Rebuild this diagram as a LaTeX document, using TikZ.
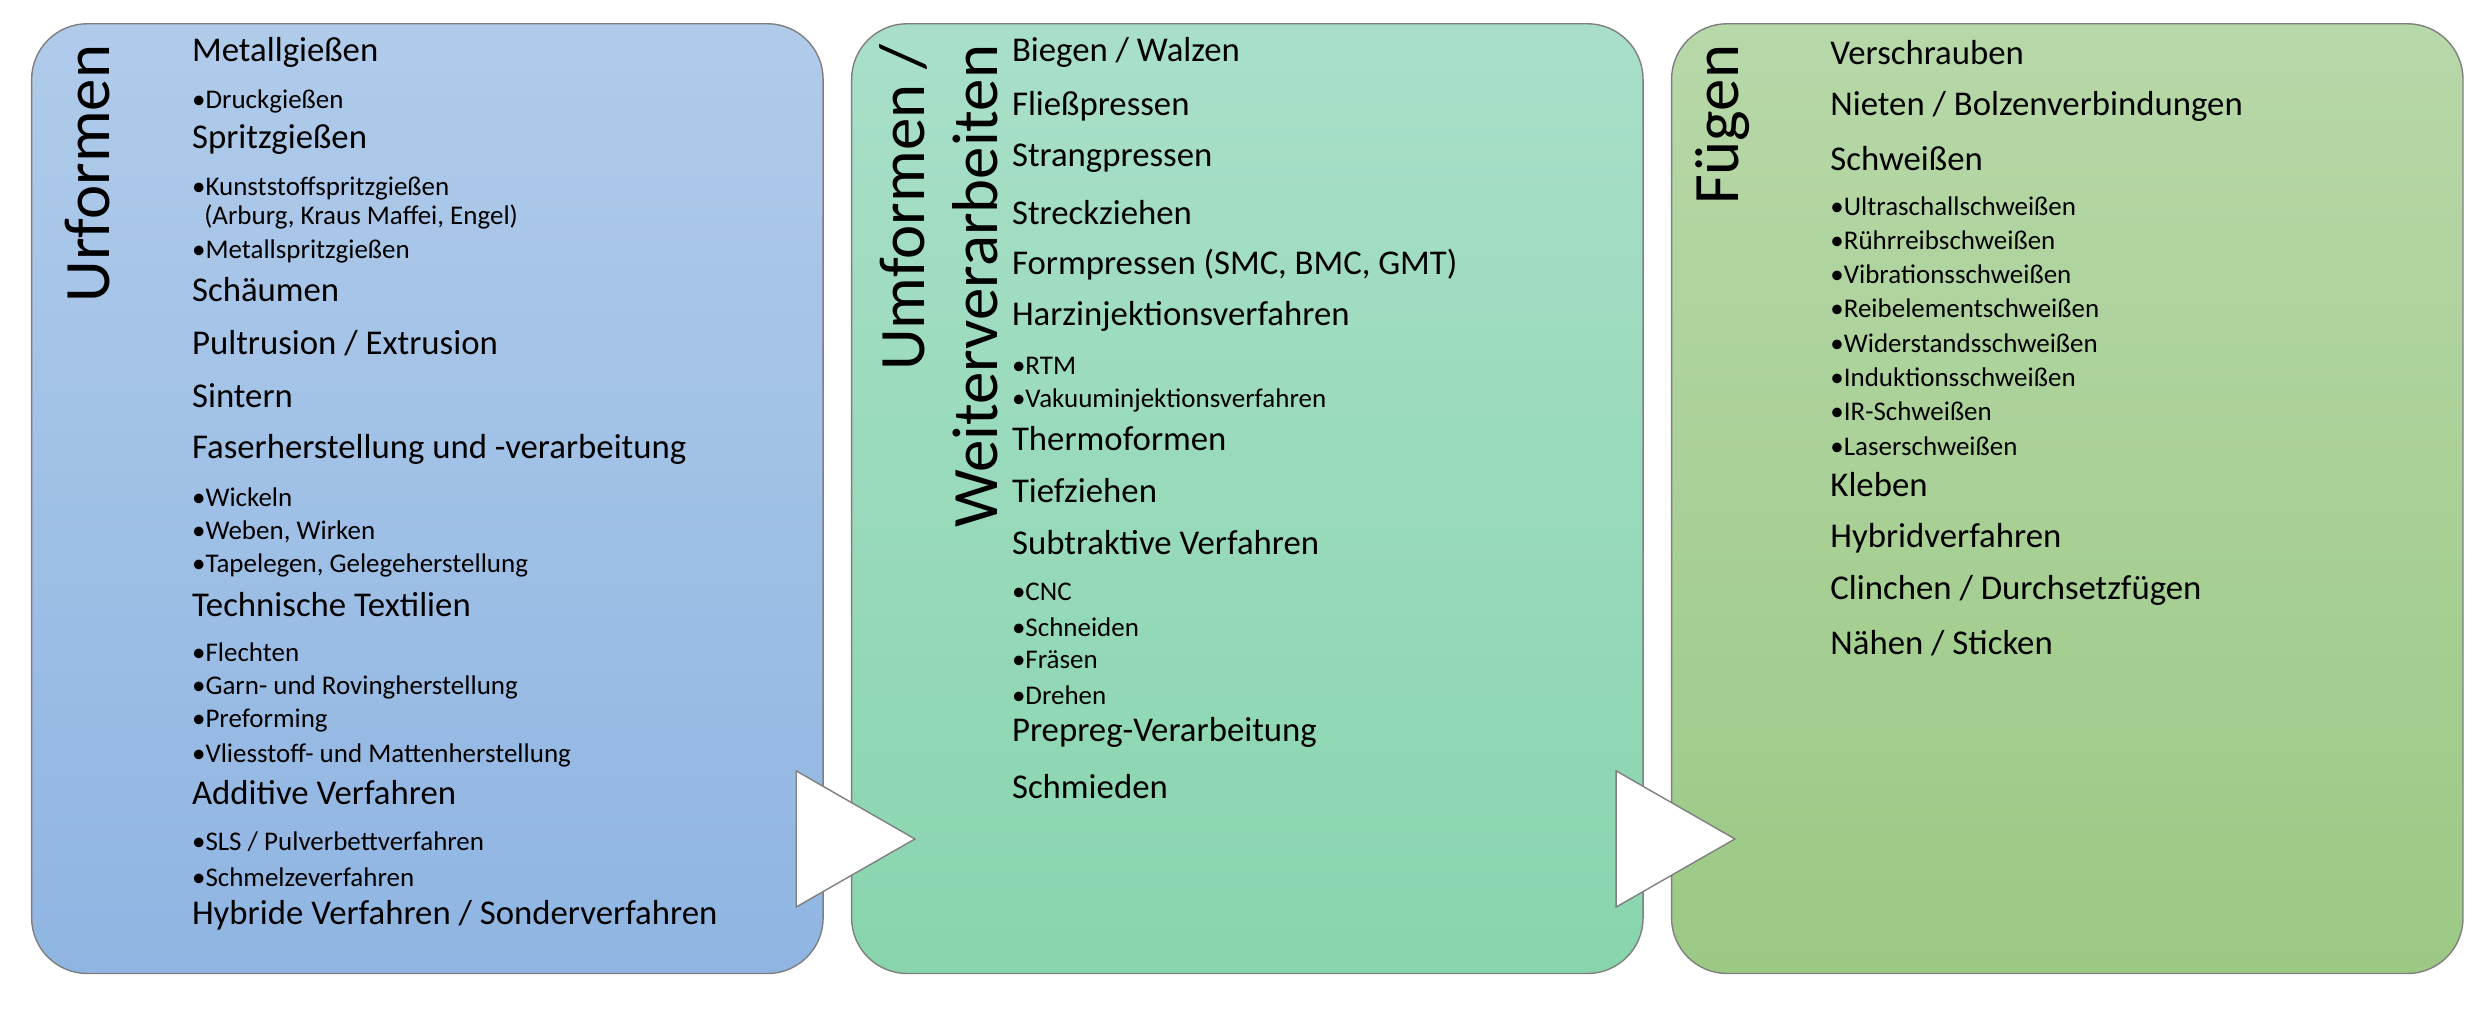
\documentclass[tikz,border=0pt]{standalone}
\usepackage{fontspec}
\setmainfont{Carlito}
\usetikzlibrary{arrows.meta}

\definecolor{urtop}{HTML}{B0CBEA}
\definecolor{urbot}{HTML}{8FB5E2}
\definecolor{umtop}{HTML}{A9DFC9}
\definecolor{umbot}{HTML}{88D5AD}
\definecolor{fgtop}{HTML}{B7D8A9}
\definecolor{fgbot}{HTML}{9BC984}
\definecolor{edge}{HTML}{7F7F7F}

\tikzset{
  panel/.style={draw=edge, line width=0.5pt, rounded corners=20},
  title/.style={rotate=90, anchor=east, inner sep=0pt, font=\fontsize{23.3}{26}\selectfont},
  mainitem/.style={anchor=west, inner sep=0pt, font=\fontsize{12.5}{14}\selectfont},
  subitem/.style={anchor=west, inner sep=0pt, font=\fontsize{9.7}{11}\selectfont},
  flow/.style={draw=edge, fill=white, line width=0.5pt}
}

\begin{document}
\begin{tikzpicture}[x=0.02cm, y=-0.02cm]

    \useasboundingbox (0,0) rectangle (1568,643);

    % panels
    \shade[panel, top color=urtop, bottom color=urbot] (20,15) rectangle (520,615);
    \shade[panel, top color=umtop, bottom color=umbot] (538,15) rectangle (1038,615);
    \shade[panel, top color=fgtop, bottom color=fgbot] (1056,15) rectangle (1556,615);

    % arrows between panels
    \draw[flow] (503,487) -- (578,530) -- (503,573) -- cycle;
    \draw[flow] (1021,487) -- (1096,530) -- (1021,573) -- cycle;

    % titles
    \node[title] (ur) at (55,28) {Urformen};
    \node[title, align=right, font=\fontsize{23.3}{26}\selectfont] (um) at (593,28) {Umformen /\\Weiterverarbeiten};
    \node[title] (fg) at (1088,28) {Fügen};

    % Urformen
    \foreach \y/\s/\t [count=\i] in {
        33/mainitem/Metallgießen, 64/subitem/•Druckgießen, 88/mainitem/Spritzgießen,
        119/subitem/•Kunststoffspritzgießen, 137/subitem/{\ \ (Arburg, Kraus Maffei, Engel)},
        159/subitem/•Metallspritzgießen, 183/mainitem/Schäumen,
        217/mainitem/{Pultrusion / Extrusion}, 250/mainitem/Sintern,
        284/mainitem/Faserherstellung und -verarbeitung, 314/subitem/•Wickeln,
        336/subitem/{•Weben, Wirken}, 357/subitem/{•Tapelegen, Gelegeherstellung},
        382/mainitem/Technische Textilien, 412/subitem/•Flechten,
        434/subitem/•Garn- und Rovingherstellung, 455/subitem/•Preforming,
        477/subitem/•Vliesstoff- und Mattenherstellung, 501/mainitem/Additive Verfahren,
        532/subitem/{•SLS / Pulverbettverfahren}, 554/subitem/•Schmelzeverfahren,
        578/mainitem/{Hybride Verfahren / Sonderverfahren}}
        \node[\s] (ur-\i) at (121,\y) {\t};

    % Umformen / Weiterverarbeiten
    \foreach \y/\s/\t [count=\i] in {
        33/mainitem/{Biegen / Walzen}, 67/mainitem/Fließpressen, 100/mainitem/Strangpressen,
        134/mainitem/Streckziehen, 167/mainitem/{Formpressen (SMC, BMC, GMT)},
        200/mainitem/Harzinjektionsverfahren, 231/subitem/•RTM,
        253/subitem/•Vakuuminjektionsverfahren, 277/mainitem/Thermoformen,
        310/mainitem/Tiefziehen, 343/mainitem/Subtraktive Verfahren, 374/subitem/•CNC,
        396/subitem/•Schneiden, 417/subitem/•Fräsen, 439/subitem/•Drehen,
        463/mainitem/Prepreg-Verarbeitung, 497/mainitem/Schmieden}
        \node[\s] (um-\i) at (639,\y) {\t};

    % Fuegen
    \foreach \y/\s/\t [count=\i] in {
        33/mainitem/Verschrauben, 67/mainitem/{Nieten / Bolzenverbindungen},
        100/mainitem/Schweißen, 130/subitem/•Ultraschallschweißen,
        152/subitem/•Rührreibschweißen, 173/subitem/•Vibrationsschweißen,
        195/subitem/•Reibelementschweißen, 217/subitem/•Widerstandsschweißen,
        238/subitem/•Induktionsschweißen, 260/subitem/•IR-Schweißen,
        282/subitem/•Laserschweißen, 306/mainitem/Kleben, 340/mainitem/Hybridverfahren,
        373/mainitem/{Clinchen / Durchsetzfügen}, 406/mainitem/{Nähen / Sticken}}
        \node[\s] (fg-\i) at (1156,\y) {\t};

\end{tikzpicture}
\end{document}
